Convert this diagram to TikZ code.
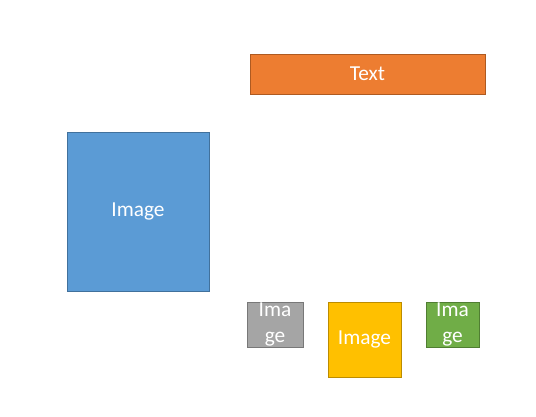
\documentclass[tikz,border=0pt]{standalone}
\usepackage{fontspec}
\setmainfont{Carlito}
\usepackage{xcolor}
\usepackage{tikz}
\usetikzlibrary{positioning}
\definecolor{orangefill}{HTML}{ED7D31}
\definecolor{orangeline}{HTML}{AE5A21}
\definecolor{bluefill}{HTML}{5B9BD5}
\definecolor{blueline}{HTML}{41719C}
\definecolor{grayfill}{HTML}{A5A5A5}
\definecolor{grayline}{HTML}{787878}
\definecolor{yellowfill}{HTML}{FFC000}
\definecolor{yellowline}{HTML}{BC8C00}
\definecolor{greenfill}{HTML}{70AD47}
\definecolor{greenline}{HTML}{507E32}
\begin{document}
\begin{tikzpicture}[x=0.75pt,
				y=-0.75pt,
				box/.style={rectangle, inner sep=0pt, text=white, align=center,
					font=\fontsize{16}{20}\selectfont}]
				\useasboundingbox (0,0) rectangle (536,417);
				\node at (367.5,74) (text) [box, fill=orangefill, draw=orangeline, minimum width=176.25pt, minimum height=30pt] {Text};
				\node at (138,211.5) (main) [box, fill=bluefill, draw=blueline, minimum width=106.5pt, minimum height=119.25pt] {Image};
				\node at (275,324.5) (left) [box, fill=grayfill, draw=grayline, minimum width=42pt, minimum height=33.75pt] {Ima\\ge};
				\node at (364.5,339.5) (middle) [box, fill=yellowfill, draw=yellowline, minimum width=54.75pt, minimum height=56.25pt] {Image};
				\node at (452.5,324.5) (right) [box, fill=greenfill, draw=greenline, minimum width=39.75pt, minimum height=33.75pt] {Ima\\ge};
			\end{tikzpicture}
\end{document}
